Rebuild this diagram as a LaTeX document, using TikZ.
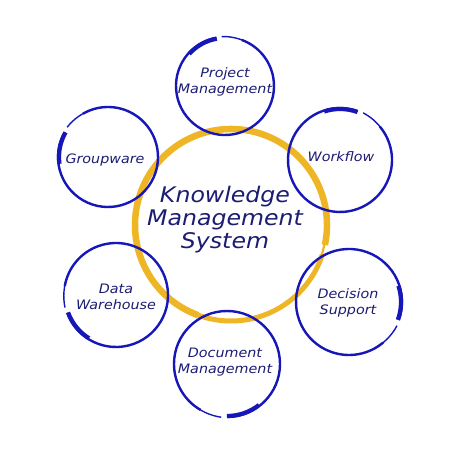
\documentclass[tikz,border=0pt]{standalone}
\usepackage{fontspec}
\setmainfont{DejaVu Sans}
\usetikzlibrary{calc}
\definecolor{ringblue}{RGB}{22,22,185}
\definecolor{ringgold}{RGB}{238,182,36}
\definecolor{inkblue}{RGB}{28,28,115}
\tikzset{
  lbl/.style={text=inkblue, align=center, font=\itshape\fontsize{13}{15.5}\selectfont, xscale=1.1, inner sep=0pt},
  biglbl/.style={text=inkblue, align=center, font=\itshape\fontsize{21.5}{23}\selectfont, xscale=1.1, inner sep=0pt},
}
% hand drawn circle: centre x, centre y, radius, start angle
\newcommand{\handcirc}[4]{%
  \draw[ringblue, line width=2.4pt] ($(#1,#2)+(#4:#3)$) arc[start angle=#4, end angle=#4+330, radius=#3];
  \draw[ringblue, line width=4.2pt] ($(#1,#2)+(#4:#3-1)$) arc[start angle=#4, end angle=#4+38, radius=#3-1];
  \draw[ringblue, line width=1.4pt] ($(#1,#2)+(#4+318:#3)$) arc[start angle=#4+318, end angle=#4+352, radius=#3+3];
}
\begin{document}
\begin{tikzpicture}[x=1pt,y=1pt]
\useasboundingbox (0,0) rectangle (474,474);
\fill[white] (0,0) rectangle (474,474);
% central ring
\draw[ringgold, line width=6.5pt] ($(231,249)+(-12:96)$) arc[start angle=-12, end angle=250, radius=96];
\draw[ringgold, line width=5pt] ($(231,249)+(250:96)$) arc[start angle=250, end angle=342, radius=96];
\draw[ringgold, line width=2.2pt] ($(231,249)+(336:95.5)$) arc[start angle=336, end angle=362, radius=92.5];
% satellite circles
\handcirc{225}{388}{49}{100}
\handcirc{108}{317}{50}{150}
\handcirc{340}{314}{52}{70}
\handcirc{116}{179}{52}{200}
\handcirc{349}{172}{53}{340}
\handcirc{227}{110}{53}{270}
% labels
\node[biglbl] (kms) at (225,254) {Knowledge\\Management\\System};
\node[lbl] (pm) at (225,392) {Project\\Management};
\node[lbl] (gw) at (105,314) {Groupware};
\node[lbl] (wf) at (341,317) {Workflow};
\node[lbl] (dw) at (116,177) {Data\\Warehouse};
\node[lbl] (ds) at (348,171) {Decision\\Support};
\node[lbl] (dm) at (225,112) {Document\\Management};
\end{tikzpicture}
\end{document}
